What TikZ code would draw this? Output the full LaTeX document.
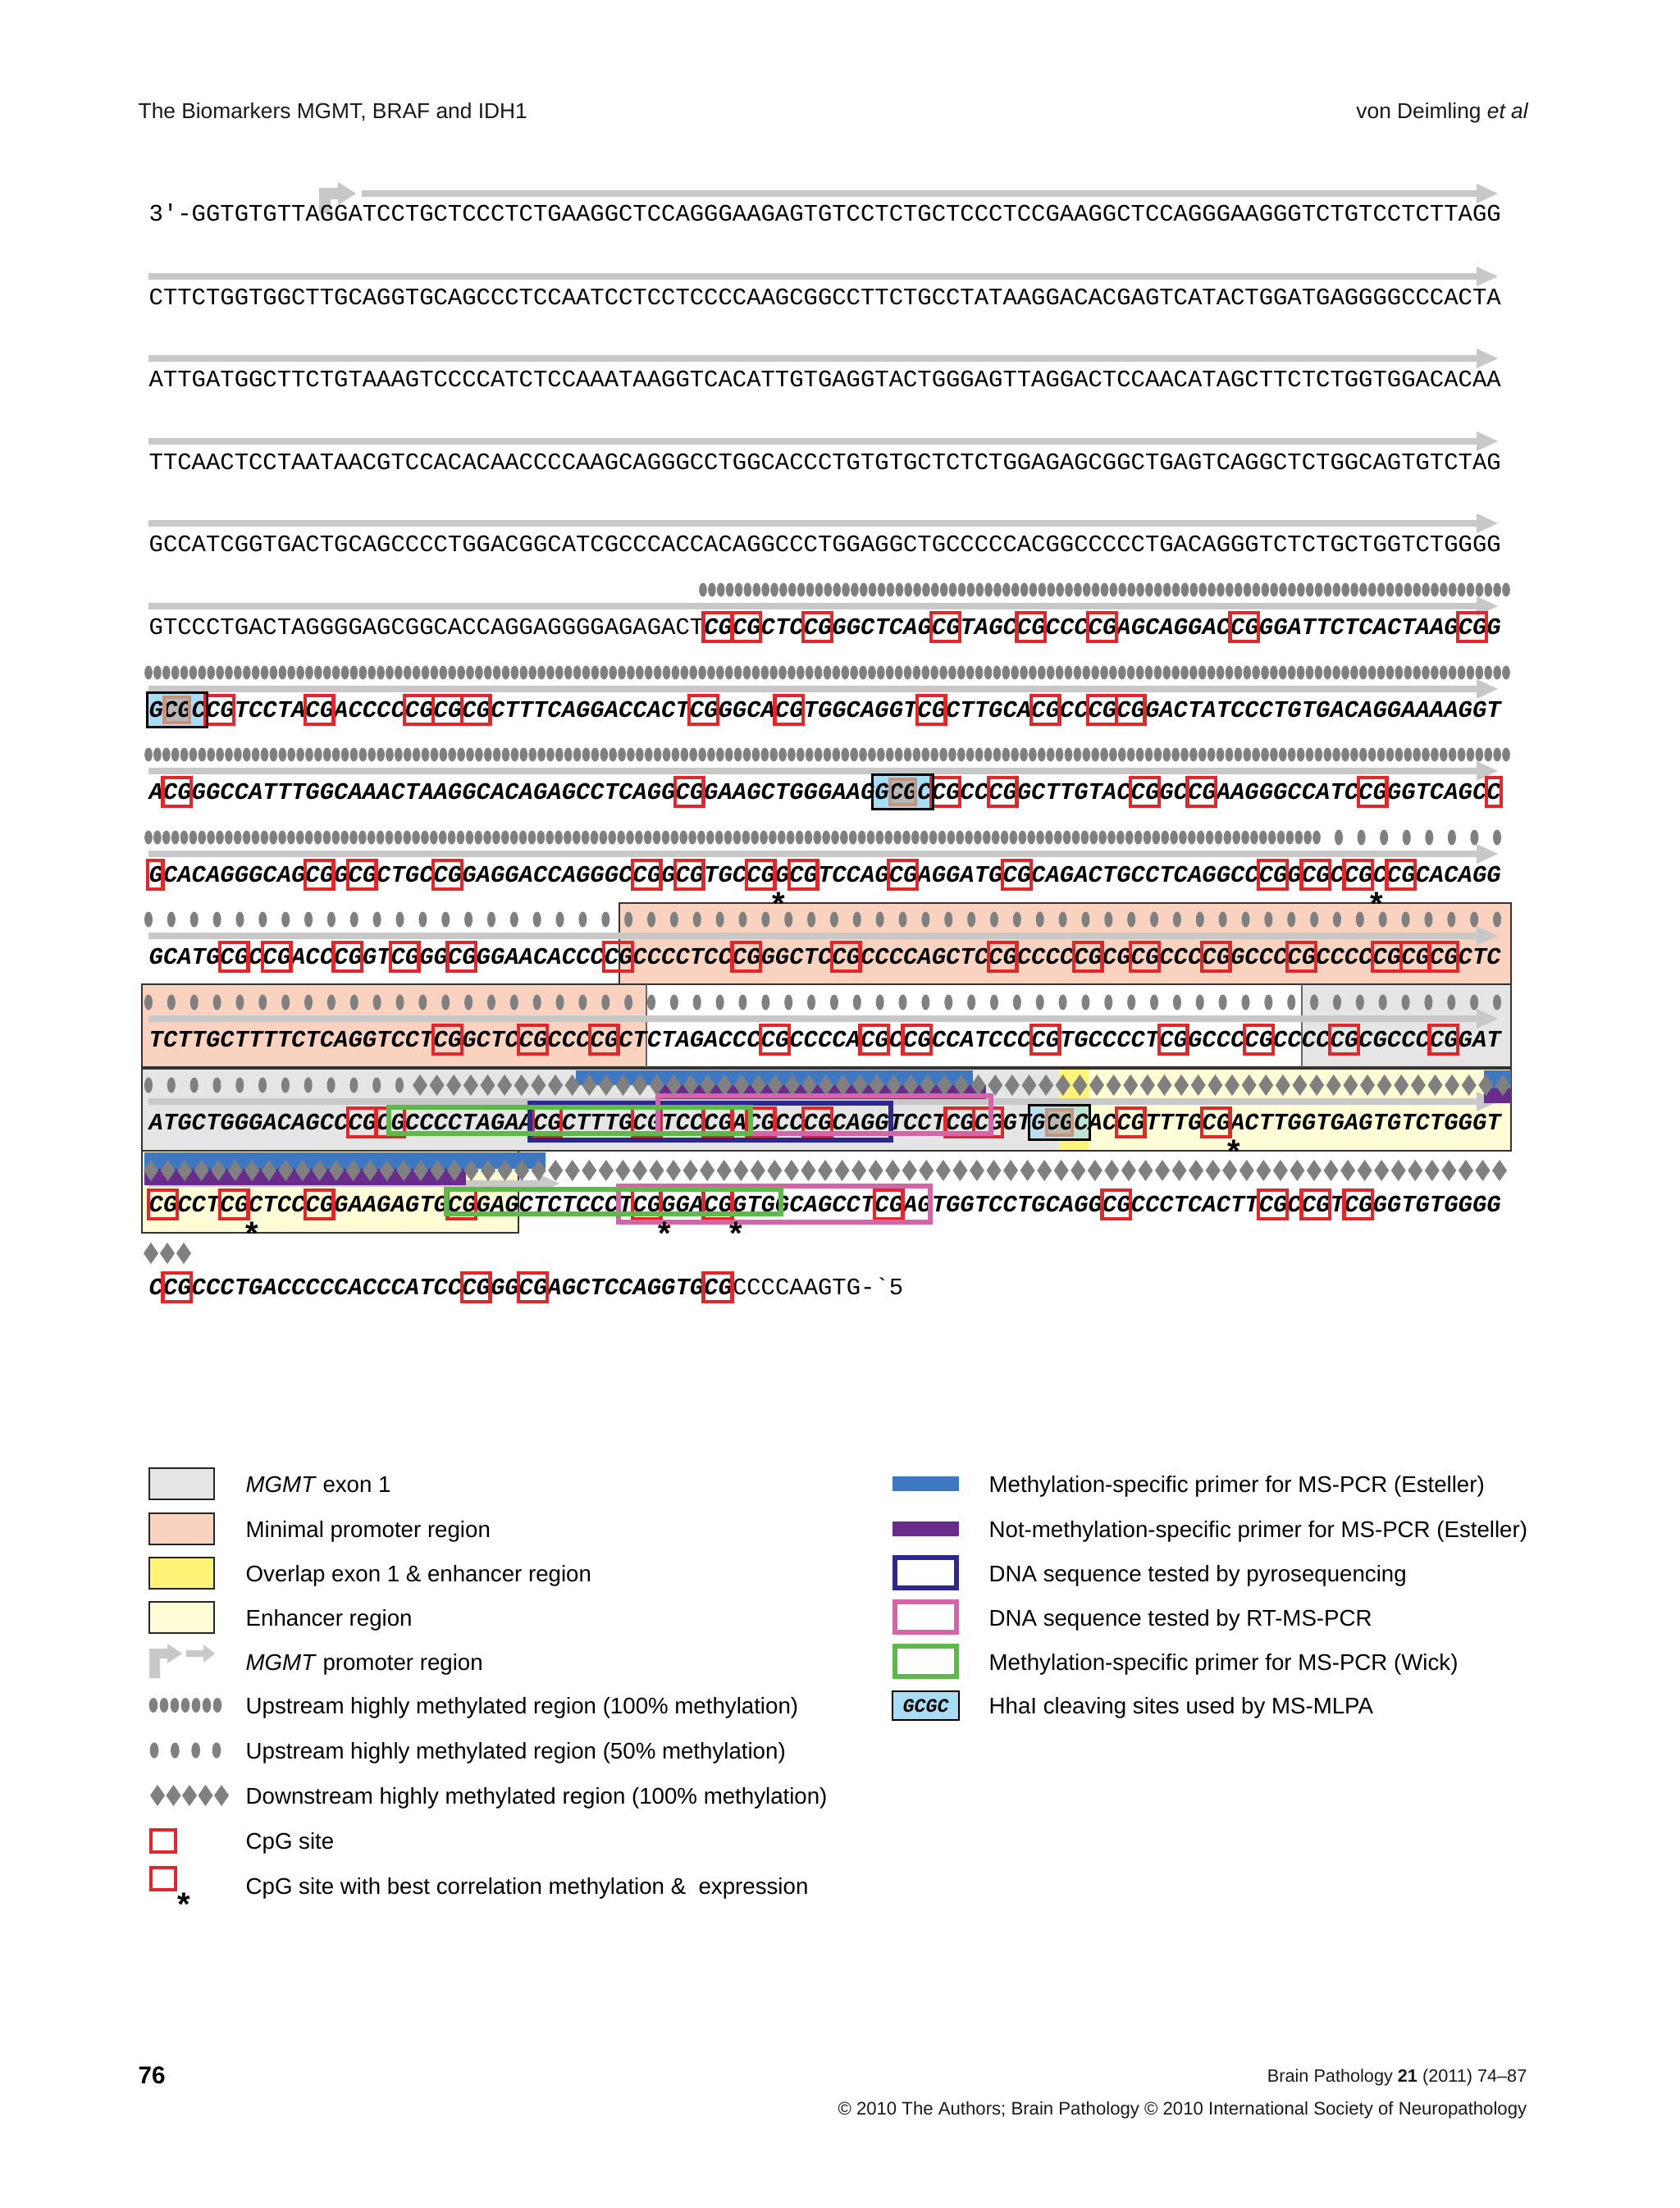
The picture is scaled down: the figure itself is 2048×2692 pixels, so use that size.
\documentclass[tikz,border=0pt]{standalone}
\usepackage{fontspec}
\setmainfont{Liberation Sans}
\setmonofont{Liberation Mono}
\definecolor{exongray}{RGB}{229,229,229}
\definecolor{salmon}{RGB}{250,210,192}
\definecolor{ovyellow}{RGB}{255,244,120}
\definecolor{enhyellow}{RGB}{255,252,214}
\definecolor{primblue}{RGB}{62,120,194}
\definecolor{primpurple}{RGB}{106,44,140}
\definecolor{pyronavy}{RGB}{44,40,140}
\definecolor{rtpink}{RGB}{214,100,168}
\definecolor{wickgreen}{RGB}{94,186,72}
\definecolor{hhablue}{RGB}{168,222,245}
\definecolor{cpgred}{RGB}{228,38,42}
\definecolor{arrgray}{RGB}{200,200,200}
\definecolor{dotgray}{RGB}{128,128,128}
\definecolor{hhacg}{RGB}{196,150,128}
\newcommand\seqsize{\fontsize{8.674}{10}\selectfont}
% red CpG boxes: #1 = line centre y, #2 = list of positions
\newcommand\cpgs[2]{\foreach \p in {#2}{\draw[cpg] ({181+(\p-1)*17.35},{#1-17}) rectangle ({181+(\p+1)*17.35},{#1+18});}}
% promoter arrow: #1 x0, #2 x1 (tip), #3 y
\newcommand\parrow[3]{\fill[arrgray] (#1,#3-4) -- ({#2-26},#3-4) -- ({#2-26},#3-12) -- (#2,#3) -- ({#2-26},#3+12) -- ({#2-26},#3+4) -- (#1,#3+4) -- cycle;}
% ovals: #1 y, #2 x0, #3 x1, #4 intervals, #5 #6 radii
\newcommand\dotrow[6]{\pgfmathsetmacro\dstep{(#3-#2)/#4}\foreach \i in {0,...,#4}{\fill[dotgray] ({#2+\dstep*\i},#1) ellipse [x radius=#5, y radius=#6];}}
% diamonds: #1 y, #2 x0, #3 x1, #4 intervals
\newcommand\diarow[4]{\pgfmathsetmacro\dstep{(#3-#2)/#4}\foreach \i in {0,...,#4}{\fill[dotgray] ({#2+\dstep*\i-9},#1) -- ++(9,-13) -- ++(9,13) -- ++(-9,13) -- cycle;}}
% HhaI site: fill part (#1 y, #2 pos)
\newcommand\hhafill[2]{\fill[hhablue] ({181+(#2-1)*17.35-2},{#1-21}) rectangle ({181+(#2+3)*17.35+2},{#1+21});
  \fill[hhacg,fill opacity=0.55] ({181+#2*17.35+2},{#1-15}) rectangle ({181+(#2+2)*17.35-2},{#1+16});}
\newcommand\hhadraw[2]{\draw[hhacg,line width=1.3pt] ({181+#2*17.35+2},{#1-15}) rectangle ({181+(#2+2)*17.35-2},{#1+16});
  \draw[black,line width=0.9pt] ({181+(#2-1)*17.35-2},{#1-21}) rectangle ({181+(#2+3)*17.35+2},{#1+21});}
% asterisk below the CpG at position #2 of line with centre #1
\newcommand\bestcpg[2]{\node[star node] at ({181+(#2+1)*17.35+5},{#1+49}) {*};}
\begin{document}
\begin{tikzpicture}[x=0.3pt,y=-0.3pt,
  seq/.style={anchor=base west,inner sep=0pt,font=\ttfamily\seqsize},
  seqb/.style={anchor=base west,inner sep=0pt,font=\ttfamily\bfseries\itshape\seqsize},
  cpg/.style={draw=cpgred,line width=1.3pt},
  region/.style={draw=black!80,line width=0.6pt},
  star node/.style={anchor=base,inner sep=0pt,font=\bfseries\fontsize{12}{12}\selectfont},
  lgtext/.style={anchor=base west,inner sep=0pt,font=\fontsize{8.3}{10}\selectfont},
  lgbox/.style={draw=black!85,line width=0.7pt},
  framebox/.style={line width=1.8pt}]
\useasboundingbox (0,0) rectangle (2048,2692);
\fill[white] (0,0) rectangle (2048,2692);

% ---------- header ----------
\node[anchor=base west,inner sep=0pt,font=\fontsize{7.9}{9}\selectfont,text=black!90] (hdrL) at (168,145) {The Biomarkers MGMT, BRAF and IDH1};
\node[anchor=base east,inner sep=0pt,font=\fontsize{7.9}{9}\selectfont,text=black!90] (hdrR) at (1864,145) {von Deimling \textit{et al}};

% ---------- regions ----------
\filldraw[fill=salmon,region] (755,1101) rectangle (1842,1200);
\fill[salmon] (173,1200) rectangle (788,1301);
\fill[exongray] (1587,1200) rectangle (1842,1301);
\draw[region] (173,1200) rectangle (1842,1301);
\draw[region,draw=black!60] (788,1200) -- (788,1301);
\draw[region,draw=black!60] (1587,1200) -- (1587,1301);
\fill[exongray] (173,1303) rectangle (1291,1403);
\fill[ovyellow] (1291,1303) rectangle (1327,1403);
\fill[enhyellow] (1327,1303) rectangle (1842,1403);
\draw[region] (173,1303) rectangle (1842,1403);
\filldraw[fill=enhyellow,region] (173,1403) rectangle (632,1503);

% ---------- HhaI fills ----------
\hhafill{865}{1}
\hhafill{965}{52}
\begin{scope}[opacity=0.75]
\hhafill{1368}{63}
\end{scope}

% ---------- promoter arrows ----------
\fill[arrgray] (389,260) -- (389,229) -- (412,229) -- (412,222) -- (434,236) -- (412,250) -- (412,243) -- (403,243) -- (403,260) -- cycle;
\parrow{441}{1826}{236}
\parrow{181}{1826}{337}
\parrow{181}{1826}{437}
\parrow{181}{1826}{538}
\parrow{181}{1826}{638}
\parrow{181}{1826}{739}
\parrow{181}{1826}{840}
\parrow{181}{1826}{940}
\parrow{181}{1826}{1041}
\parrow{181}{1826}{1141}
\parrow{181}{1826}{1242}
\parrow{181}{1826}{1343}
\parrow{181}{682}{1443}

% ---------- primer bars ----------
\fill[primblue] (702,1305) rectangle (1186,1323);
\fill[primpurple] (800,1323) rectangle (1202,1340);
\fill[primblue] (1809,1305) rectangle (1842,1327);
\fill[primpurple] (1809,1327) rectangle (1842,1345);
\fill[primblue] (176,1405) rectangle (665,1425);
\fill[primpurple] (176,1425) rectangle (568,1445);

% ---------- methylation marks ----------
\dotrow{719}{857}{1836}{90}{1.45pt}{2.55pt}
\dotrow{820}{181}{1836}{152}{1.45pt}{2.55pt}
\dotrow{920}{181}{1836}{152}{1.45pt}{2.55pt}
\dotrow{1021}{181}{1605}{131}{1.45pt}{2.55pt}
\dotrow{1021}{1632}{1825}{7}{1.5pt}{2.85pt}
\dotrow{1121}{181}{1825}{59}{1.5pt}{2.85pt}
\dotrow{1222}{181}{1825}{59}{1.5pt}{2.85pt}
\dotrow{1323}{181}{487}{11}{1.5pt}{2.85pt}
\diarow{1323}{512}{1832}{64}
\diarow{1427}{184}{1828}{80}
\diarow{1528}{184}{224}{2}

% ---------- sequence ----------
\node[seq] (s1) at (181,270) {3'-GGTGTGTTAGGATCCTGCTCCCTCTGAAGGCTCCAGGGAAGAGTGTCCTCTGCTCCCTCCGAAGGCTCCAGGGAAGGGTCTGTCCTCTTAGG};
\node[seq] (s2) at (181,371) {CTTCTGGTGGCTTGCAGGTGCAGCCCTCCAATCCTCCTCCCCAAGCGGCCTTCTGCCTATAAGGACACGAGTCATACTGGATGAGGGGCCCACTA};
\node[seq] (s3) at (181,471) {ATTGATGGCTTCTGTAAAGTCCCCATCTCCAAATAAGGTCACATTGTGAGGTACTGGGAGTTAGGACTCCAACATAGCTTCTCTGGTGGACACAA};
\node[seq] (s4) at (181,572) {TTCAACTCCTAATAACGTCCACACAACCCCAAGCAGGGCCTGGCACCCTGTGTGCTCTCTGGAGAGCGGCTGAGTCAGGCTCTGGCAGTGTCTAG};
\node[seq] (s5) at (181,672) {GCCATCGGTGACTGCAGCCCCTGGACGGCATCGCCCACCACAGGCCCTGGAGGCTGCCCCCACGGCCCCCTGACAGGGTCTCTGCTGGTCTGGGG};
\node[seq] (s6) at (181,773) {GTCCCTGACTAGGGGAGCGGCACCAGGAGGGGAGAGACT{\bfseries\itshape CGCGCTCCGGGCTCAGCGTAGCCGCCCCGAGCAGGACCGGGATTCTCACTAAGCGG}};
\node[seqb] (s7) at (181,874) {GCGCCGTCCTACGACCCCCGCGCGCTTTCAGGACCACTCGGGCACGTGGCAGGTCGCTTGCACGCCCGCGGACTATCCCTGTGACAGGAAAAGGT};
\node[seqb] (s8) at (181,974) {ACGGGCCATTTGGCAAACTAAGGCACAGAGCCTCAGGCGGAAGCTGGGAAGGCGCCGCCCGGCTTGTACCGGCCGAAGGGCCATCCGGGTCAGCC};
\node[seqb] (s9) at (181,1075) {GCACAGGGCAGCGGCGCTGCCGGAGGACCAGGGCCGGCGTGCCGGCGTCCAGCGAGGATGCGCAGACTGCCTCAGGCCCGGCGCCGCCGCACAGG};
\node[seqb] (s10) at (181,1175) {GCATGCGCCGACCCGGTCGGGCGGGAACACCCCGCCCCTCCCGGGCTCCGCCCCAGCTCCGCCCCCGCGCGCCCCGGCCCCGCCCCCGCGCGCTC};
\node[seqb] (s11) at (181,1276) {TCTTGCTTTTCTCAGGTCCTCGGCTCCGCCCCGCTCTAGACCCCGCCCCACGCCGCCATCCCCGTGCCCCTCGGCCCCGCCCCCGCGCCCCGGAT};
\node[seqb] (s12) at (181,1377) {ATGCTGGGACAGCCCGCGCCCCTAGAACGCTTTGCGTCCCGACGCCCGCAGGTCCTCGCGGTGCGCACCGTTTGCGACTTGGTGAGTGTCTGGGT};
\node[seqb] (s13) at (181,1477) {CGCCTCGCTCCCGGAAGAGTGCGGAGCTCTCCCTCGGGACGGTGGCAGCCTCGAGTGGTCCTGCAGGCGCCCTCACTTCGCCGTCGGGTGTGGGG};
\node[seq] (s14) at (181,1578) {{\bfseries\itshape CCGCCCTGACCCCCACCCATCCCGGGCGAGCTCCAGGTGCG}CCCCAAGTG-`5};

% ---------- CpG sites ----------
\cpgs{764}{40,42,47,56,62,67,77,93}
\cpgs{865}{5,12,19,21,23,39,45,55,63,67,69}
\cpgs{965}{2,38,56,60,70,74,86}
\draw[cpg] ({181+94*17.35},948) rectangle ({181+95*17.35+1},983);
\draw[cpg] (180,1049) rectangle ({181+17.35},1084);
\cpgs{1066}{12,15,21,35,38,43,46,53,61,79,82,85,88}
\cpgs{1166}{6,9,14,18,22,33,42,49,60,66,70,75,81,87,89,91}
\cpgs{1267}{21,27,32,44,51,54,63,72,78,84,91}
\cpgs{1368}{15,17,28,35,40,43,47,57,59,69,75}
\cpgs{1468}{1,6,12,22,35,40,52,68,79,82,85}
\cpgs{1569}{2,23,27,40}
\hhadraw{865}{1}
\hhadraw{965}{52}
\hhadraw{1368}{63}

% ---------- assay boxes ----------
\draw[pyronavy,framebox] (646,1345) rectangle (1086,1390);
\draw[rtpink,framebox] (802,1336) rectangle (1208,1382);
\draw[wickgreen,framebox] (474,1350) rectangle (915,1382);
\draw[rtpink,framebox] (754,1446) rectangle (1134,1490);
\draw[wickgreen,framebox] (544,1450) rectangle (952,1480);

% ---------- best-correlation asterisks ----------
\bestcpg{1066}{43}
\bestcpg{1066}{85}
\bestcpg{1368}{75}
\bestcpg{1468}{6}
\bestcpg{1468}{35}
\bestcpg{1468}{40}

% ---------- legend, left column ----------
\filldraw[fill=exongray,lgbox] (182,1790) rectangle (261,1828);
\node[lgtext] (lg1) at (299,1819) {\textit{MGMT} exon 1};
\filldraw[fill=salmon,lgbox] (182,1845) rectangle (261,1883);
\node[lgtext] (lg2) at (299,1874) {Minimal promoter region};
\filldraw[fill=ovyellow,lgbox] (182,1899) rectangle (261,1937);
\node[lgtext] (lg3) at (299,1928) {Overlap exon 1 \& enhancer region};
\filldraw[fill=enhyellow,lgbox] (182,1953) rectangle (261,1991);
\node[lgtext] (lg4) at (299,1982) {Enhancer region};
\fill[arrgray] (182,2046) -- (182,2010) -- (204,2010) -- (204,2004) -- (222,2016) -- (204,2028) -- (204,2022) -- (195,2022) -- (195,2046) -- cycle;
\fill[arrgray] (227,2012) -- (248,2012) -- (248,2005) -- (262,2016) -- (248,2027) -- (248,2020) -- (227,2020) -- cycle;
\node[lgtext] (lg5) at (299,2036) {\textit{MGMT} promoter region};
\dotrow{2079}{187}{265}{6}{1.6pt}{2.7pt}
\node[lgtext] (lg6) at (299,2089) {Upstream highly methylated region (100\% methylation)};
\dotrow{2134}{188}{264}{3}{1.6pt}{2.9pt}
\node[lgtext] (lg7) at (299,2144) {Upstream highly methylated region (50\% methylation)};
\diarow{2189}{192}{270}{4}
\node[lgtext] (lg8) at (299,2199) {Downstream highly methylated region (100\% methylation)};
\draw[cpg] (184,2231) rectangle (214,2258);
\node[lgtext] (lg9) at (299,2254) {CpG site};
\draw[cpg] (184,2277) rectangle (214,2304);
\node[star node] (lgstar) at (224,2335) {*};
\node[lgtext] (lg10) at (299,2309) {CpG site with best correlation methylation \&\ \ expression};

% ---------- legend, right column ----------
\fill[primblue] (1088,1800) rectangle (1169,1818);
\node[lgtext] (lr1) at (1205,1819) {Methylation-specific primer for MS-PCR (Esteller)};
\fill[primpurple] (1088,1855) rectangle (1169,1873);
\node[lgtext] (lr2) at (1205,1874) {Not-methylation-specific primer for MS-PCR (Esteller)};
\draw[pyronavy,framebox] (1091,1899) rectangle (1166,1936);
\node[lgtext] (lr3) at (1205,1928) {DNA sequence tested by pyrosequencing};
\draw[rtpink,framebox] (1091,1953) rectangle (1166,1990);
\node[lgtext] (lr4) at (1205,1982) {DNA sequence tested by RT-MS-PCR};
\draw[wickgreen,framebox] (1091,2007) rectangle (1166,2044);
\node[lgtext] (lr5) at (1205,2036) {Methylation-specific primer for MS-PCR (Wick)};
\filldraw[fill=hhablue,draw=black,line width=0.8pt] (1088,2062) rectangle (1169,2097) node[midway,inner sep=0pt,font=\ttfamily\bfseries\itshape\fontsize{7}{8}\selectfont] (lgc) {GCGC};
\node[lgtext] (lr6) at (1205,2089) {HhaI cleaving sites used by MS-MLPA};

% ---------- footer ----------
\node[anchor=base west,inner sep=0pt,font=\bfseries\fontsize{8.9}{10}\selectfont] (pgno) at (168,2540) {76};
\node[anchor=base east,inner sep=0pt,font=\fontsize{6.5}{8}\selectfont,text=black!90] (jrnl) at (1862,2538) {Brain Pathology \textbf{21} (2011) 74–87};
\node[anchor=base east,inner sep=0pt,font=\fontsize{6.65}{8}\selectfont,text=black!90] (copy) at (1862,2578) {© 2010 The Authors; Brain Pathology © 2010 International Society of Neuropathology};
\end{tikzpicture}
\end{document}
